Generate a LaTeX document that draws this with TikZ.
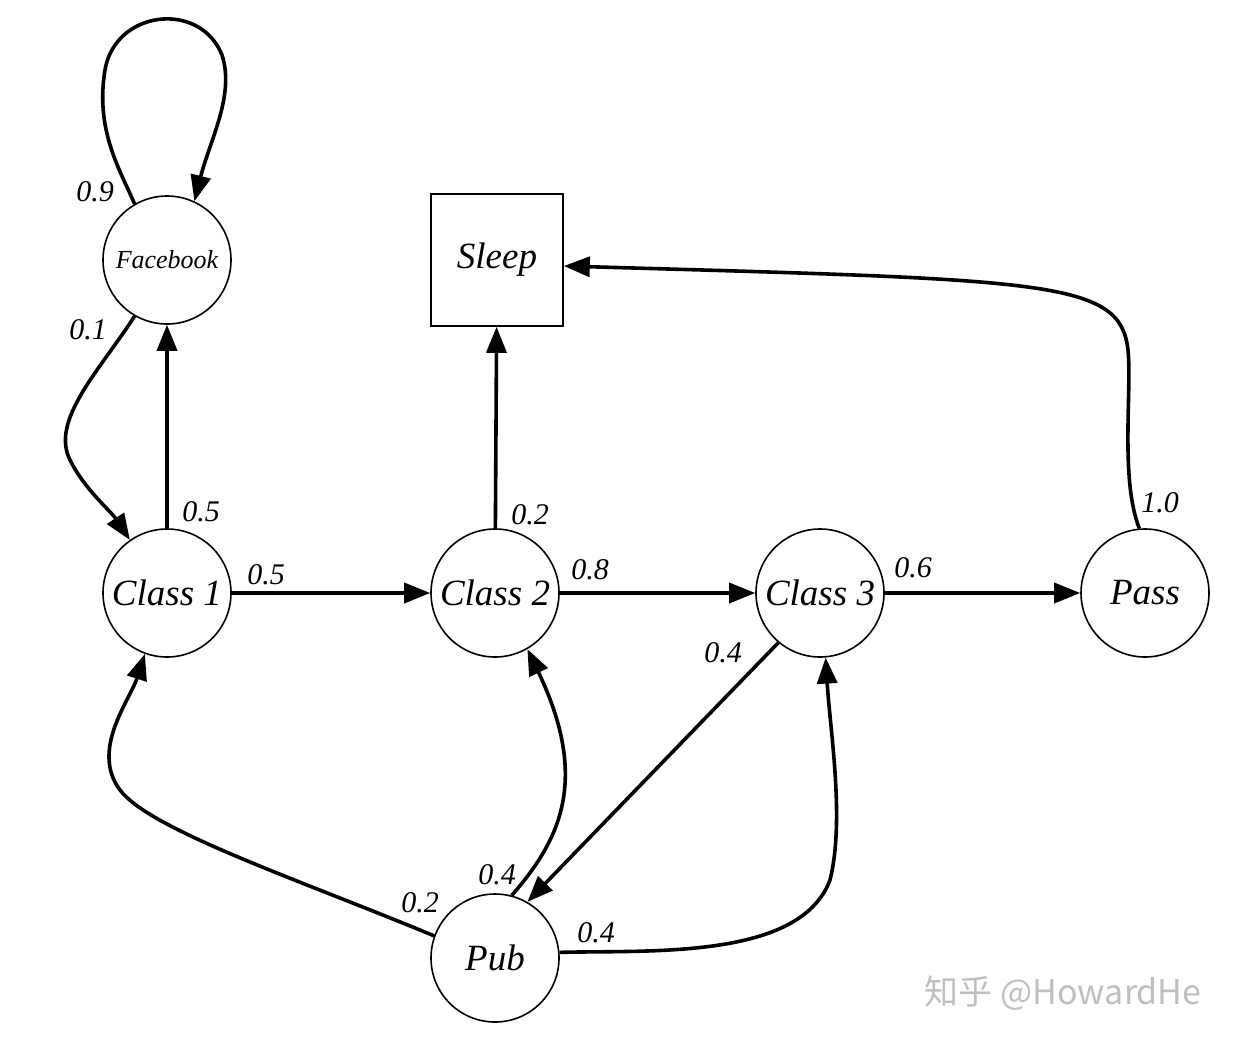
\documentclass[tikz,border=0pt]{standalone}
\usepackage{fontspec}
\setmainfont{Liberation Serif}
\newfontfamily\cjk{Noto Sans CJK SC}
\usetikzlibrary{arrows.meta}
\begin{document}
\begin{tikzpicture}[x=1pt,y=-1pt,
 st/.style={circle,draw,line width=1.6pt,minimum size=128pt,inner sep=0pt,font=\fontsize{37}{39}\selectfont\itshape},
 e/.style={line width=3.6pt,-{Triangle[length=26pt,width=20pt]}},
 lb/.style={font=\fontsize{30}{32}\selectfont\itshape}]
\useasboundingbox (0,0) rectangle (1234,1042);
\node[st,font=\fontsize{26}{28}\selectfont\itshape] (fb) at (167,260) {Facebook};
\node[draw,line width=1.6pt,minimum size=132pt,font=\fontsize{37}{39}\selectfont\itshape] (sl) at (497,260) {Sleep};
\node[st] (c1) at (167,593) {Class 1};
\node[st] (c2) at (495,593) {Class 2};
\node[st] (c3) at (820,593) {Class 3};
\node[st] (ps) at (1145,593) {Pass};
\node[st] (pb) at (495,958) {Pub};
\draw[e] (fb.120) .. controls (120,170) and (95,130) .. (105,70) .. controls (115,10) and (200,0) .. (222,55) .. controls (235,95) and (210,140) .. (fb.65);
\draw[e] (fb.-120) .. controls (100,370) and (50,420) .. (70,460) .. controls (85,490) and (110,510) .. (c1.125);
\draw[e] (c1) -- (fb);
\draw[e] (c2) -- (sl);
\draw[e] (ps.95) .. controls (1120,480) and (1132,390) .. (1128,350) .. controls (1120,280) and (1050,280) .. (sl.east |- 0,266);
\draw[e] (c1) -- (c2);
\draw[e] (c2) -- (c3);
\draw[e] (c3) -- (ps);
\draw[e] (c3.-130) -- (pb.60);
\draw[e] (pb.160) .. controls (300,880) and (150,830) .. (120,790) .. controls (90,750) and (130,700) .. (c1.-110);
\draw[e] (pb.75) .. controls (560,840) and (590,780) .. (c2.-60);
\draw[e] (pb.5) .. controls (650,950) and (800,960) .. (830,880) .. controls (845,820) and (830,730) .. (c3.-85);
\node[lb] at (95,192) {0.9};
\node[lb] at (88,330) {0.1};
\node[lb] at (201,512) {0.5};
\node[lb] at (266,575) {0.5};
\node[lb] at (530,515) {0.2};
\node[lb] at (590,570) {0.8};
\node[lb] at (913,568) {0.6};
\node[lb] at (1160,503) {1.0};
\node[lb] at (723,653) {0.4};
\node[lb] at (497,875) {0.4};
\node[lb] at (420,903) {0.2};
\node[lb] at (596,933) {0.4};
\node[font=\cjk\fontsize{34}{36}\selectfont,text=black!25,anchor=east] at (1205,993) {知乎 @HowardHe};
\end{tikzpicture}
\end{document}
